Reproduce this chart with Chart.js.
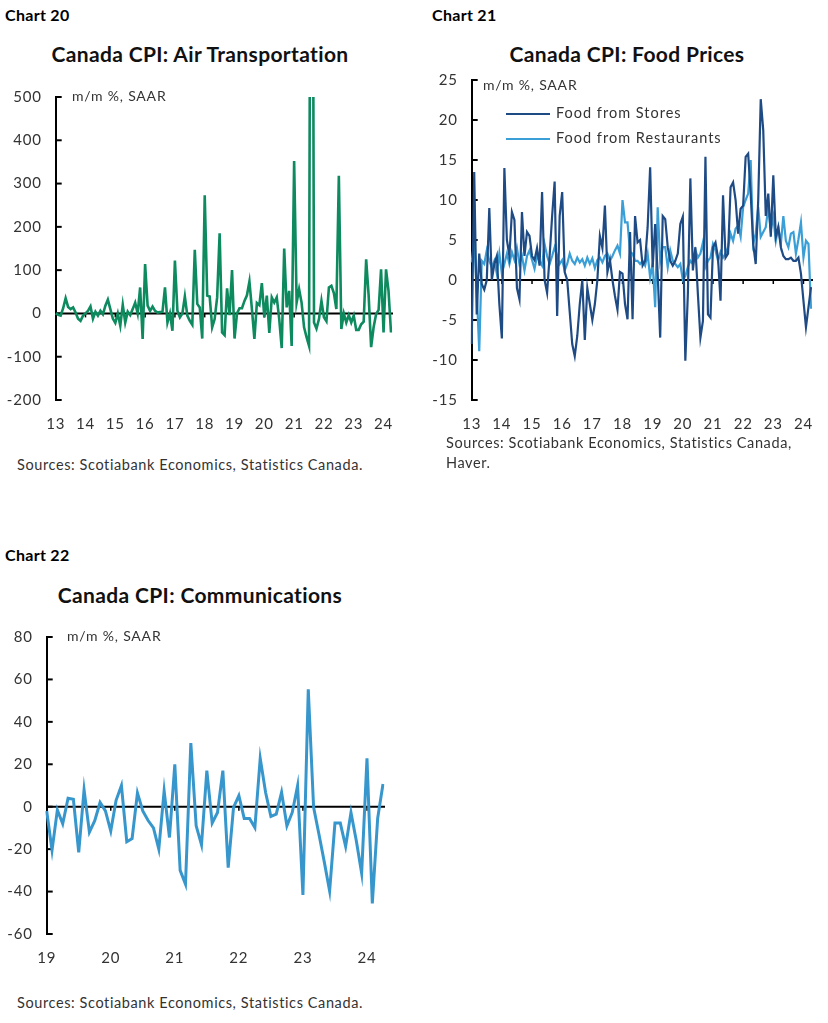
<!DOCTYPE html>
<html>
<head>
<meta charset="utf-8">
<script src="https://cdn.jsdelivr.net/npm/chart.js@4.4.1/dist/chart.umd.min.js"></script>
<style>
  body { margin: 0; background: #fff; width: 828px; height: 1023px; position: relative; overflow: hidden;
         font-family: Lato, "Open Sans", sans-serif; color: #222; }
  .num { position: absolute; font-weight: bold; font-size: 16px; letter-spacing: 0.3px; color: #000; }
  .ttl { position: absolute; font-weight: bold; font-size: 21px; letter-spacing: 0.35px; color: #111; text-align: center; width: 400px; }
  .src { position: absolute; font-size: 14.5px; letter-spacing: 0.6px; color: #333; line-height: 20px; }
  .unit { position: absolute; font-size: 14px; letter-spacing: 0.8px; color: #333; }
  .box { position: absolute; }
  .leg { position: absolute; font-size: 14.5px; letter-spacing: 1px; color: #333; }
  .leg span { display: inline-block; width: 44px; height: 2px; vertical-align: middle; margin-right: 6px; }
</style>
</head>
<body>

<div class="num" style="left:5px;top:5px">Chart 20</div>
<div class="ttl" style="left:0;top:41px">Canada CPI: Air Transportation</div>
<div class="box" style="left:0;top:85px;width:400px;height:350px"><canvas id="airChart"></canvas></div>
<div class="unit" style="left:72px;top:87px">m/m %, SAAR</div>
<div class="src" style="left:17px;top:455px">Sources: Scotiabank Economics, Statistics Canada.</div>

<div class="num" style="left:432px;top:5px">Chart 21</div>
<div class="ttl" style="left:427px;top:41px">Canada CPI: Food Prices</div>
<div class="box" style="left:420px;top:70px;width:408px;height:365px"><canvas id="foodChart"></canvas></div>
<div class="unit" style="left:483px;top:76px">m/m %, SAAR</div>
<div class="leg" style="left:506px;top:104px"><span style="background:#1f4b85"></span>Food from Stores</div>
<div class="leg" style="left:506px;top:129px"><span style="background:#3a9fd6"></span>Food from Restaurants</div>
<div class="src" style="left:446px;top:433px">Sources: Scotiabank Economics, Statistics Canada,<br>Haver.</div>

<div class="num" style="left:5px;top:545px">Chart 22</div>
<div class="ttl" style="left:0;top:582px">Canada CPI: Communications</div>
<div class="box" style="left:0;top:625px;width:400px;height:350px"><canvas id="commChart"></canvas></div>
<div class="unit" style="left:67px;top:627px">m/m %, SAAR</div>
<div class="src" style="left:17px;top:993px">Sources: Scotiabank Economics, Statistics Canada.</div>

<script>
// monthly series, m/m % SAAR
var years1324 = ['13', '14', '15', '16', '17', '18', '19', '20', '21', '22', '23', '24'];
var years1924 = ['19', '20', '21', '22', '23', '24'];

// Chart 20: air transportation, Jan 2013 - Apr 2024 (mid-2021 spike runs off the top)
var airTransport = [0, -3, -5, 12, 35, 15, 10, 14, 2, -12,
    -17, -5, 0, 6, 16, -12, 4, -5, 6, -2,
    18, 32, 10, -12, -22, 0, -28, 20, -21, 4,
    -4, 10, 25, 0, 60, -59, 114, 18, 6, 16,
    6, 2, 3, 4, 60, -21, 0, -40, 122, 6,
    -9, 0, 39, -5, -17, -26, 147, 22, 14, -58,
    273, 41, 39, -32, -13, 37, 185, -44, -50, 58,
    -4, 100, -58, 0, 12, 12, 29, 42, 74, 10,
    -59, 24, 19, 70, -9, 41, -45, 37, 25, 37,
    -13, -80, 150, 14, 52, -75, 352, 25, 56, 25,
    -32, -55, -75, 2000, -21, -35, -13, 29, -9, -18,
    60, 64, 47, 10, 318, -36, 0, -21, -4, -21,
    -5, -38, -38, -25, -19, 125, 41, -78, -32, -2,
    8, 102, -44, 102, 52, -44];

// Chart 21: food prices, Jan 2013 - Apr 2024
var foodStores = [-8, 13.5, -4.3, 3.3, -0.5, -1.2, 0, 9, 0, 2,
    3, -3, -7.3, 14, 5, 3, 8.5, 7.5, -1, -2.4,
    8.5, 3, 6, 5.5, 3, 2.5, 4, 1.8, 11, 0,
    -1.6, 3, 8, 12.3, -4.5, 8, 11, 1, 0, -4,
    -8, -9.5, -7, -3, 0, -7.5, -1, -3, -5, -3,
    0, 5.5, 4, 9.3, 1, 2.5, 0, -2, -3.7, 1,
    0.8, -3, -4.9, 6, -4.9, 8, 4.7, 5, 1.8, 2.4,
    6.6, 14.1, 1.6, 7, 0.8, -7.2, 8, 7.6, 4.1, 2.4,
    1.8, 2.4, 3.3, 7, 7.9, -10.1, -1.8, 12.7, 1.2, 4.1,
    -1.8, -7.2, -5.1, 15.4, -4.3, -4.7, 4.1, 4.7, 2.8, -2.6,
    10.6, 2.8, 3.3, 11.6, 12.2, 10, 5.8, 8.9, 9.3, 15.4,
    15.8, 10.8, 4.5, 2, 10, 22.6, 18.7, 8, 10.8, 5.4,
    13.1, 5.4, 6.6, 4.1, 3, 2.6, 2.6, 2.8, 2.4, 2.4,
    2.8, 0.8, -2.6, -5.9, -3.4, -0.9];
var foodRestaurants = [2.2, 5, -1.3, -8.9, 2.4, 2, 3.7, 2.4, 1.6, 2.4,
    0.8, 3.3, 0.8, 2, 3.3, 2, 3.5, 2.5, 4, 2,
    3, 1.2, 3, 3.7, 2.5, 1.4, 3, 2.4, 1.8, 4.5,
    3, 2, 3, 4.1, 3, 2, 2.5, 1.2, 2, 3.3,
    2.4, 2, 2.8, 2.2, 2.6, 1.8, 2.8, 2, 2.7, 1.5,
    2.5, 2.8, 2.2, 3, 3.3, 2.4, 3, 3.7, 4.3, 3.3,
    10, 7.2, 7.2, 3.5, 3.3, 2.4, 2.4, 2, 2.4, 1.8,
    3.3, 0.3, 2, -3.4, 9.1, 2.4, 4.1, 4.1, 1.6, 3.7,
    2.4, 2, 1.6, 2, 0, 0.5, 1.6, 2.4, 2, 3.7,
    2.8, 3.3, 4.7, 1.6, 2.4, 2.8, 4.5, 3.7, 2.4, 3.5,
    2.8, 3.3, 4.1, 5.8, 4.9, 6.4, 6.8, 5.4, 9.1, 10,
    10.8, 15, 4.5, 5.8, 9.1, 5.4, 6, 6.6, 9.1, 6.2,
    7.9, 4.9, 6.6, 4.5, 8, 4.9, 4.1, 5.8, 6, 3.3,
    5.1, 7.2, 2.8, 4.9, 4.5, -3.6];

// Chart 22: communications, Jan 2019 - Apr 2024
var communications = [-2, -20.5, -1.5, -8, 4, 3.5, -21.5, 8, -12, -6.6,
    2, -2, -11.5, 3, 10, -16.5, -15, 6.5, -2, -6.5,
    -10, -20, 7.5, -14.5, 20, -30, -36.5, 30, -9, -18,
    17, -7.7, -2.7, 17, -28.7, -0.3, 5.2, -5.5, -5.5, -9.8,
    22.8, 6.8, -4.6, -3.5, 6.8, -9, -2.7, 9.9, -41.6, 55.3,
    -0.3, -13, -26, -39.7, -7.7, -7.7, -18.7, -2.7, -16, -31.3,
    22.8, -45.6, -5.5, 10.7];

function monthLabels(startYear, count) {
    var out = [];
    for (var i = 0; i < count; i++) {
        out.push((startYear + Math.floor(i / 12)) + '-' + (i % 12 + 1));
    }
    return out;
}

var tickFont = { family: 'Lato, "Open Sans", sans-serif', size: 15 };
var tickColor = '#333';

// zero line with year ticks, plus short inside ticks on the y axis
var axisDecor = {
    id: 'axisDecor',
    beforeDraw: function (chart) {
        chart.ctx.letterSpacing = '0.8px';
    },
    beforeDatasetsDraw: function (chart, args, opts) {
        var ctx = chart.ctx, area = chart.chartArea;
        var x = chart.scales.x, y = chart.scales.y;
        var y0 = y.getPixelForValue(0);
        ctx.save();
        ctx.strokeStyle = '#000';
        ctx.lineWidth = 2;
        ctx.beginPath();
        ctx.moveTo(area.left, y0);
        ctx.lineTo(area.right + (opts.extend || 0), y0);
        ctx.stroke();
        ctx.lineWidth = 1.5;
        for (var i = 12; i < chart.data.labels.length; i += 12) {
            var px = x.getPixelForValue(i);
            ctx.beginPath();
            ctx.moveTo(px, y0);
            ctx.lineTo(px, y0 + 4);
            ctx.stroke();
        }
        ctx.lineWidth = 2;
        y.ticks.forEach(function (t, j) {
            var py = y.getPixelForTick(j);
            ctx.beginPath();
            ctx.moveTo(area.left, py);
            ctx.lineTo(area.left + 6, py);
            ctx.stroke();
        });
        ctx.restore();
    }
};

function makeChart(id, labels, yearTicks, datasets, yMin, yMax, yStep, yWidth, xHeight, pad) {
    return new Chart(document.getElementById(id), {
        type: 'line',
        data: { labels: labels, datasets: datasets },
        plugins: [axisDecor],
        options: {
            responsive: true,
            maintainAspectRatio: false,
            animation: false,
            layout: { padding: pad },
            elements: { point: { radius: 0 }, line: { tension: 0 } },
            plugins: {
                legend: { display: false },
                tooltip: { enabled: false },
                axisDecor: { extend: 2 }
            },
            scales: {
                x: {
                    grid: { display: false },
                    border: { display: false },
                    ticks: {
                        autoSkip: false, maxRotation: 0, padding: 7,
                        font: tickFont, color: tickColor,
                        callback: function (v, i) { return i % 12 === 0 ? yearTicks[i / 12] : null; }
                    },
                    afterFit: function (s) { s.height = xHeight; s.paddingLeft = 0; s.paddingRight = 0; }
                },
                y: {
                    min: yMin, max: yMax,
                    ticks: { stepSize: yStep, padding: 14, font: tickFont, color: tickColor },
                    grid: { drawOnChartArea: false, drawTicks: false },
                    border: { color: '#000', width: 2 },
                    afterFit: function (s) { s.width = yWidth; s.paddingTop = 0; s.paddingBottom = 0; }
                }
            }
        }
    });
}

makeChart('airChart', monthLabels(2013, airTransport.length), years1324, [
    { label: 'Air Transportation', data: airTransport, borderColor: '#0e8a5f', borderWidth: 2.6 }
], -200, 500, 100, 55.7, 35, { top: 12, right: 9, left: 0, bottom: 0 });

makeChart('foodChart', monthLabels(2013, foodStores.length), years1324, [
    { label: 'Food from Stores', data: foodStores, borderColor: '#1f4b85', borderWidth: 2.2 },
    { label: 'Food from Restaurants', data: foodRestaurants, borderColor: '#3a9fd6', borderWidth: 2.2 }
], -15, 25, 5, 51.7, 35, { top: 10, right: 17, left: 0, bottom: 0 });

makeChart('commChart', monthLabels(2019, communications.length), years1924, [
    { label: 'Communications', data: communications, borderColor: '#3797cd', borderWidth: 3 }
], -60, 80, 20, 46.7, 41, { top: 12, right: 17, left: 0, bottom: 0 });
</script>
</body>
</html>
